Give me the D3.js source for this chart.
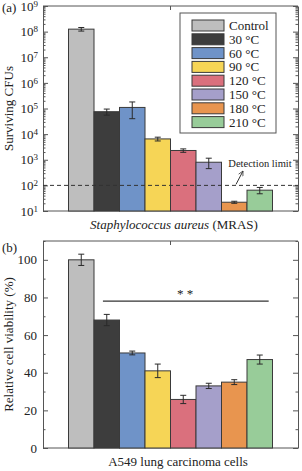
<!DOCTYPE html>
<html>
<head>
<meta charset="utf-8">
<script src="https://cdn.jsdelivr.net/npm/d3@7"></script>
<style>
  body { margin: 0; background: #fff; }
  svg { display: block; }
  svg text { font-family: "Times New Roman", "Liberation Serif", Times, serif; }
  .axis path, .axis line { stroke: #555; }
  .axis text { font-family: "Times New Roman", "Liberation Serif", Times, serif; font-size: 13px; fill: #222; }
</style>
</head>
<body>
<svg id="chart"></svg>
<script>
// categories and colours
var groups = ["Control", "30 °C", "60 °C", "90 °C", "120 °C", "150 °C", "180 °C", "210 °C"];
var colors = ["#bebebe", "#3d3d3d", "#6f93c8", "#f6d556", "#da707d", "#a59fca", "#e8954f", "#98cc99"];

// (a) surviving CFUs
var cfuValues = [1.25e8, 7.5e4, 1.1e5, 6.5e3, 2.3e3, 8.0e2, 22, 65];
var cfuErrors = [2.0e7, 2.0e4, 7.0e4, 1.1e3, 3.5e2, 3.5e2, 2, 18];
var cfuTicks = [1e1, 1e2, 1e3, 1e4, 1e5, 1e6, 1e7, 1e8, 1e9];
var detectionLimit = 100;

// (b) cell viability
var viabValues = [100, 68, 50.5, 41, 25.8, 33, 35, 47];
var viabErrors = [3, 3, 1, 3.6, 2.2, 1.4, 1.3, 2.4];
var viabTicks = [0, 20, 40, 60, 80, 100];
var sigLevel = 78;

var W = 302, H = 471;
var left = 43, right = 298;

var svg = d3.select("#chart").attr("width", W).attr("height", H);

var slot = (right - left) / 10;
var x = d3.scaleBand()
  .domain(groups)
  .range([left + slot, right - slot])
  .padding(0);

function frame(g, top, bottom){
  // top border and bottom axis line with the centre tick
  var mid = (left + right) / 2;
  g.append("line").attr("x1", left).attr("x2", right).attr("y1", top).attr("y2", top)
    .attr("stroke", "#555");
  g.append("line").attr("x1", mid).attr("x2", mid).attr("y1", top).attr("y2", top + 4)
    .attr("stroke", "#555");
  g.append("line").attr("x1", left).attr("x2", right).attr("y1", bottom).attr("y2", bottom)
    .attr("stroke", "#555");
  g.append("line").attr("x1", mid).attr("x2", mid).attr("y1", bottom).attr("y2", bottom - 4)
    .attr("stroke", "#555");
}

function bars(g, y, vals, errs){
  g.selectAll("rect.bar")
    .data(vals)
    .enter()
    .append("rect")
    .attr("class", "bar")
    .attr("x", function(d, i){ return x(groups[i]); })
    .attr("width", x.bandwidth())
    .attr("y", function(d){ return y(d); })
    .attr("height", function(d){ return y.range()[0] - y(d); })
    .attr("fill", function(d, i){ return colors[i]; })
    .attr("stroke", "#3a3a3a")
    .attr("stroke-width", 1);

  var eb = g.selectAll("g.err")
    .data(vals)
    .enter()
    .append("g")
    .attr("class", "err")
    .attr("stroke", "#2a2a2a")
    .attr("stroke-width", 1);
  var cx = function(i){ return x(groups[i]) + x.bandwidth() / 2; };
  eb.append("line")
    .attr("x1", function(d, i){ return cx(i); })
    .attr("x2", function(d, i){ return cx(i); })
    .attr("y1", function(d, i){ return y(d + errs[i]); })
    .attr("y2", function(d, i){ return y(d - errs[i]); });
  eb.append("line")
    .attr("x1", function(d, i){ return cx(i) - 3; })
    .attr("x2", function(d, i){ return cx(i) + 3; })
    .attr("y1", function(d, i){ return y(d + errs[i]); })
    .attr("y2", function(d, i){ return y(d + errs[i]); });
  eb.append("line")
    .attr("x1", function(d, i){ return cx(i) - 3; })
    .attr("x2", function(d, i){ return cx(i) + 3; })
    .attr("y1", function(d, i){ return y(d - errs[i]); })
    .attr("y2", function(d, i){ return y(d - errs[i]); });
}

// ---------- panel (a) ----------
var aTop = 6, aBottom = 211;
var ya = d3.scaleLog().domain([1e1, 1e9]).range([aBottom, aTop]);
var ga = svg.append("g");

var minorA = [];
cfuTicks.slice(0, -1).forEach(function(t){
  for (var k = 2; k < 10; k++) minorA.push(t * k);
});

ga.append("g").attr("class", "axis")
  .attr("transform", "translate(" + left + ",0)")
  .call(d3.axisLeft(ya).tickValues(minorA).tickSize(-2.5).tickFormat(""))
  .select("path").remove();
ga.append("g").attr("class", "axis")
  .attr("transform", "translate(" + right + ",0)")
  .call(d3.axisRight(ya).tickValues(minorA).tickSize(-2.5).tickFormat(""))
  .select("path").remove();

var axA = ga.append("g").attr("class", "axis")
  .attr("transform", "translate(" + left + ",0)")
  .call(d3.axisLeft(ya).tickValues(cfuTicks).tickSize(-5).tickSizeOuter(0).tickPadding(5));
axA.selectAll(".tick text").each(function(d){
  var t = d3.select(this).text("");
  t.append("tspan").text("10");
  t.append("tspan").attr("dy", "-0.45em").attr("font-size", "9px").text(Math.round(Math.log10(d)));
});
ga.append("g").attr("class", "axis")
  .attr("transform", "translate(" + right + ",0)")
  .call(d3.axisRight(ya).tickValues(cfuTicks).tickSize(-5).tickSizeOuter(0).tickFormat(""));

frame(ga, aTop, aBottom);
bars(ga, ya, cfuValues, cfuErrors);

// detection limit
ga.append("line")
  .attr("x1", left).attr("x2", right)
  .attr("y1", ya(detectionLimit)).attr("y2", ya(detectionLimit))
  .attr("stroke", "#333").attr("stroke-dasharray", "4,3");
ga.append("text")
  .attr("x", 260).attr("y", 167)
  .attr("text-anchor", "middle")
  .attr("font-size", "10.5px")
  .attr("fill", "#222")
  .text("Detection limit");
svg.append("defs").append("marker")
  .attr("id", "arr").attr("viewBox", "0 0 10 10")
  .attr("refX", 9).attr("refY", 5)
  .attr("markerWidth", 6).attr("markerHeight", 6)
  .attr("orient", "auto")
  .append("path").attr("d", "M1,1 L9,5 L1,9").attr("fill", "none").attr("stroke", "#333").attr("stroke-width", 1.2);
ga.append("line")
  .attr("x1", 236).attr("y1", ya(detectionLimit) - 1)
  .attr("x2", 243).attr("y2", 171)
  .attr("stroke", "#333").attr("marker-end", "url(#arr)");

// legend
var lg = ga.append("g");
lg.append("rect")
  .attr("x", 180).attr("y", 13).attr("width", 96).attr("height", 120)
  .attr("fill", "#fff").attr("stroke", "#555");
var li = lg.selectAll("g.li").data(groups).enter().append("g")
  .attr("transform", function(d, i){ return "translate(192," + (20 + i * 13.8) + ")"; });
li.append("rect").attr("width", 32).attr("height", 11)
  .attr("fill", function(d, i){ return colors[i]; })
  .attr("stroke", "#3a3a3a");
li.append("text").attr("x", 37).attr("y", 10)
  .attr("font-size", "13px").attr("fill", "#222")
  .text(function(d){ return d; });

ga.append("text")
  .attr("transform", "translate(13," + ((aTop + aBottom) / 2) + ") rotate(-90)")
  .attr("text-anchor", "middle").attr("font-size", "13px").attr("fill", "#222")
  .text("Surviving CFUs");
var xa = ga.append("text")
  .attr("x", 174).attr("y", 229)
  .attr("text-anchor", "middle").attr("font-size", "13px").attr("fill", "#222");
xa.append("tspan").attr("font-style", "italic").text("Staphylococcus aureus");
xa.append("tspan").text(" (MRAS)");
ga.append("text").attr("x", 2).attr("y", 12).attr("font-size", "13px").attr("fill", "#222").text("(a)");

// ---------- panel (b) ----------
var bTop = 241, bBottom = 448;
var yb = d3.scaleLinear().domain([0, 110]).range([bBottom, bTop]);
var gb = svg.append("g");

var minorB = d3.range(10, 111, 20);
gb.append("g").attr("class", "axis")
  .attr("transform", "translate(" + left + ",0)")
  .call(d3.axisLeft(yb).tickValues(minorB).tickSize(-2.5).tickFormat(""))
  .select("path").remove();
gb.append("g").attr("class", "axis")
  .attr("transform", "translate(" + right + ",0)")
  .call(d3.axisRight(yb).tickValues(minorB).tickSize(-2.5).tickFormat(""))
  .select("path").remove();
gb.append("g").attr("class", "axis")
  .attr("transform", "translate(" + left + ",0)")
  .call(d3.axisLeft(yb).tickValues(viabTicks).tickSize(-5).tickSizeOuter(0).tickPadding(6));
gb.append("g").attr("class", "axis")
  .attr("transform", "translate(" + right + ",0)")
  .call(d3.axisRight(yb).tickValues(viabTicks).tickSize(-5).tickSizeOuter(0).tickFormat(""));

frame(gb, bTop, bBottom);
bars(gb, yb, viabValues, viabErrors);

// significance bar
gb.append("line")
  .attr("x1", x(groups[1]) + x.bandwidth() * 0.35)
  .attr("x2", x(groups[7]) + x.bandwidth() * 0.85)
  .attr("y1", yb(sigLevel)).attr("y2", yb(sigLevel))
  .attr("stroke", "#333").attr("stroke-width", 1.2);
gb.append("text")
  .attr("x", 185).attr("y", yb(sigLevel) - 3)
  .attr("text-anchor", "middle").attr("font-size", "13px").attr("fill", "#222")
  .text("* *");

gb.append("text")
  .attr("transform", "translate(13," + ((bTop + bBottom) / 2) + ") rotate(-90)")
  .attr("text-anchor", "middle").attr("font-size", "13px").attr("fill", "#222")
  .text("Relative cell viability (%)");
gb.append("text")
  .attr("x", 178).attr("y", 466)
  .attr("text-anchor", "middle").attr("font-size", "13px").attr("fill", "#222")
  .text("A549 lung carcinoma cells");
gb.append("text").attr("x", 2).attr("y", 252).attr("font-size", "13px").attr("fill", "#222").text("(b)");
</script>
</body>
</html>
